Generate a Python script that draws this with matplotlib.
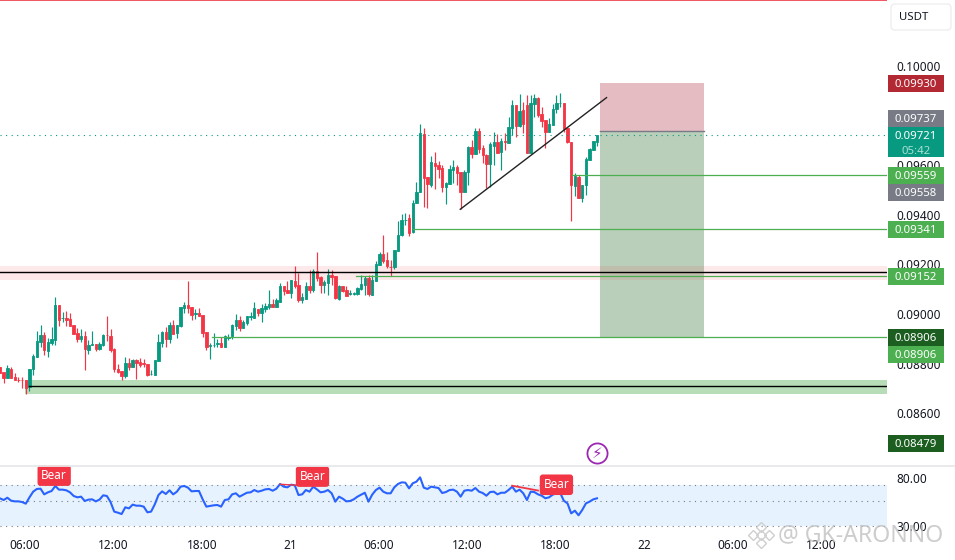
#!/usr/bin/env python3
import numpy as np
import matplotlib
matplotlib.use('Agg')
import matplotlib.pyplot as plt
from matplotlib.lines import Line2D
from matplotlib.patches import Rectangle, FancyBboxPatch
from matplotlib.transforms import IdentityTransform

plt.rcParams['font.family'] = ['Noto Sans', 'DejaVu Sans']

# ============================================================================
# data (15m candles, price in 1e-5 units)
# ============================================================================
opens = [8786,8765,8743,8779,8747,8734,8734,8733,8704,8779,8827,8888,8917,8851,8882,8896,9037,8982,8984,8979,
         8956,8924,8900,8912,8855,8876,8880,8859,8876,8915,8912,8859,8777,8769,8752,8803,8786,8815,8806,8801,
         8798,8758,8756,8811,8885,8928,8900,8956,8923,8952,9025,9037,9027,9001,9004,8996,8928,8869,8876,8880,
         8884,8865,8905,8910,8952,8976,8944,8963,8989,8984,9019,9006,9019,9029,9041,9029,9049,9113,9097,9085,
         9133,9117,9056,9060,9113,9097,9173,9151,9117,9124,9157,9153,9060,9113,9097,9082,9081,9079,9100,9117,
         9144,9077,9133,9198,9242,9218,9190,9188,9254,9318,9377,9386,9332,9446,9493,9724,9552,9520,9607,9601,
         9587,9512,9525,9581,9594,9571,9493,9574,9673,9645,9738,9670,9641,9603,9677,9692,9654,9696,9691,9751,
         9842,9759,9822,9842,9648,9846,9869,9805,9783,9735,9762,9826,9849,9849,9748,9693,9515,9554,9469,9520,
         9621,9661,9692]
highs = [8786,8765,8794,8786,8764,8748,8748,8733,8779,8838,8933,8956,8927,8905,8948,9069,9037,9008,9013,9003,
         8956,8943,8940,8933,8896,8933,8880,8889,8920,8992,8939,8862,8799,8769,8826,8823,8820,8818,8822,8818,
         8798,8773,8815,8920,8933,8949,8966,8976,8956,9030,9049,9133,9027,9022,9025,8996,8928,8882,8924,8898,
         8906,8917,8920,8960,8999,8990,8976,8992,9010,9049,9019,9039,9046,9097,9062,9064,9124,9113,9131,9137,
         9194,9164,9085,9130,9177,9180,9250,9153,9137,9180,9177,9153,9117,9113,9113,9097,9090,9108,9157,9153,
         9157,9157,9215,9251,9318,9250,9218,9258,9375,9403,9408,9403,9458,9531,9764,9748,9552,9638,9652,9617,
         9601,9531,9601,9621,9601,9571,9581,9679,9701,9751,9748,9681,9645,9695,9735,9726,9708,9731,9795,9863,
         9842,9885,9856,9883,9883,9885,9876,9833,9783,9789,9845,9883,9889,9849,9755,9693,9567,9560,9520,9634,
         9668,9697,9722]
lows = [8764,8722,8743,8743,8732,8724,8702,8678,8690,8755,8825,8866,8835,8825,8877,8876,8952,8966,8952,8952,
        8920,8889,8888,8775,8837,8876,8851,8855,8873,8890,8846,8768,8761,8735,8743,8775,8786,8740,8786,8788,
        8752,8753,8756,8811,8866,8865,8885,8920,8904,8948,9006,9003,8976,8979,8990,8909,8855,8819,8866,8865,
        8865,8865,8896,8901,8936,8931,8944,8957,8976,8984,8992,8968,9010,9019,9029,9029,9049,9077,9085,9064,
        9105,9047,9046,9060,9083,9090,9133,9086,9083,9077,9117,9062,9056,9090,9073,9077,9078,9077,9097,9077,
        9073,9077,9133,9198,9207,9184,9153,9181,9254,9316,9359,9314,9328,9446,9493,9433,9429,9513,9504,9547,
        9493,9444,9525,9527,9520,9422,9493,9520,9630,9645,9648,9607,9507,9513,9601,9648,9581,9661,9691,9722,
        9715,9755,9728,9648,9648,9795,9795,9755,9670,9732,9762,9809,9836,9735,9688,9375,9476,9469,9453,9480,
        9621,9660,9679]
closes = [8764,8743,8783,8743,8732,8733,8733,8701,8779,8831,8892,8917,8853,8888,8900,9037,8976,8983,8976,8952,
          8920,8900,8912,8859,8876,8878,8859,8880,8916,8914,8855,8780,8765,8752,8803,8787,8816,8802,8795,8800,
          8755,8760,8815,8888,8928,8900,8956,8920,8956,9030,9037,9025,8996,9003,8992,8924,8866,8876,8877,8882,
          8865,8912,8906,8956,8976,8944,8967,8992,8991,9025,9004,9023,9033,9041,9029,9057,9113,9092,9085,9135,
          9113,9056,9069,9113,9097,9173,9144,9117,9130,9157,9148,9063,9113,9093,9073,9083,9083,9104,9121,9144,
          9079,9137,9202,9242,9214,9194,9189,9258,9318,9379,9379,9328,9446,9493,9728,9550,9524,9611,9597,9585,
          9512,9528,9585,9591,9570,9493,9571,9674,9645,9738,9665,9641,9605,9684,9693,9648,9697,9695,9754,9842,
          9759,9818,9766,9648,9849,9869,9802,9779,9735,9765,9826,9852,9850,9746,9692,9520,9558,9469,9520,9625,
          9665,9697,9722]

rsi = [58.8,57.1,59.5,56.4,55.7,55.7,55.0,53.3,59.9,65.8,68.6,68.9,63.0,65.1,66.5,71.7,67.9,67.9,67.2,65.1,
       61.3,59.9,60.6,56.1,57.5,57.8,55.7,57.5,62.0,61.3,55.0,45.0,43.9,42.5,49.5,48.4,52.3,51.2,51.2,50.2,
       44.3,45.0,52.6,62.3,66.1,63.4,67.2,63.0,65.8,71.0,71.7,70.0,66.1,66.5,66.5,57.8,50.2,50.9,51.6,51.9,
       50.2,57.1,57.8,63.0,64.1,60.6,62.7,64.7,65.1,67.5,65.8,66.8,68.2,68.6,66.8,68.9,73.8,71.0,70.3,73.1,
       72.4,62.3,63.0,67.5,65.8,71.0,68.2,65.1,65.8,67.5,64.1,55.4,60.6,58.5,55.7,56.1,57.8,60.6,62.7,64.7,
       55.4,62.7,67.5,70.0,65.8,64.1,64.1,70.3,73.8,75.5,75.2,69.3,74.5,76.2,80.7,70.0,68.6,71.0,70.3,69.6,
       64.4,65.4,67.5,67.9,65.8,60.6,66.8,67.5,66.8,69.6,65.8,64.4,61.6,65.4,65.8,63.0,64.7,64.7,67.5,71.0,
       65.8,67.9,64.1,57.1,65.8,65.4,63.0,61.6,58.9,59.9,62.7,64.1,64.7,56.4,53.6,43.2,46.0,41.2,46.7,53.6,
       55.4,57.8,58.9]

last_price = 0.09721
stop_price = 0.09930
entry_price = 0.09737
target_price = 0.08906
level_prices = [0.09559, 0.09341, 0.09152, 0.08906]
level_starts = [155.2, 112.0, 96.6, 57.6]
pink_zone = (0.09137, 0.09193)
pink_mid = 0.09168
green_zone = (0.08678, 0.08734)
green_mid = 0.08709
trend_x = [124.9, 164.6]
trend_y = [0.09422, 0.09872]
box_x = (162.8, 191.0)

price_ticks = [0.10000, 0.09600, 0.09400, 0.09200, 0.09000, 0.08800, 0.08600]
time_labels = ['06:00', '12:00', '18:00', '21', '06:00', '12:00', '18:00', '22', '06:00', '12:00']
rsi_levels = [72.7, 56.0, 30.0]

price_tags = [
    ('0.09930', 0.09930, '#b22833', 0),
    ('0.09737', 0.09737, '#787b86', 13),
    ('0.09559', 0.09559, '#4caf50', 0),
    ('0.09558', 0.09558, '#787b86', -17),
    ('0.09341', 0.09341, '#4caf50', 0),
    ('0.09152', 0.09152, '#4caf50', 0),
    ('0.08906', 0.08906, '#1b5e20', 0),
    ('0.08906', 0.08906, '#4caf50', -17),
    ('0.08479', 0.08479, '#1b5e20', 0),
]

UP = '#089981'
DOWN = '#f23645'
W, H = 955, 560

# ============================================================================
# layout
# ============================================================================
fig = plt.figure(figsize=(W / 100, H / 100), dpi=100)
ax = fig.add_axes([0, (H - 466) / H, 887 / W, 466 / H])
ax2 = fig.add_axes([0, (H - 534) / H, 887 / W, (534 - 467) / H])

n = len(opens)
x = np.arange(n)
o = np.array(opens) / 1e5
hi = np.array(highs) / 1e5
lo = np.array(lows) / 1e5
c = np.array(closes) / 1e5
colors = [UP if b >= a else DOWN for a, b in zip(o, c)]

# ============================================================================
# main panel
# ============================================================================
ax.fill_between(box_x, entry_price, stop_price, color='#e5bcc2', lw=0, zorder=1)
ax.fill_between(box_x, target_price, entry_price, color='#b9cfba', lw=0, zorder=1)
ax.axhspan(*pink_zone, color='#f23645', alpha=0.11, lw=0, zorder=1.5)
ax.fill_between([6.8, 240.7], *green_zone, color='#b7ddb8', lw=0, zorder=1.5)

ax.vlines(x, lo, hi, colors=colors, lw=0.85, zorder=2)
ax.bar(x, np.abs(c - o), bottom=np.minimum(o, c), width=0.66, color=colors, edgecolor=colors, lw=0.6, zorder=2.5)

ax.axhline(last_price, color=UP, lw=0.8, ls=(0, (1, 4)), zorder=3)
ax.axhline(pink_mid, color='black', lw=1, zorder=3)
ax.plot([8, 240.7], [green_mid, green_mid], color='black', lw=1, zorder=3)
for price, start in zip(level_prices, level_starts):
    ax.plot([start, 240.7], [price, price], color='#4caf50', lw=0.9, zorder=3)
ax.plot(box_x, [entry_price, entry_price], color='#787b86', lw=1, zorder=3)
ax.plot(trend_x, trend_y, color='#222222', lw=1, zorder=3.5)
ax.axhline(0.10264, color=DOWN, lw=1.2, zorder=3)

ax.plot([162], [0.0844], marker='o', ms=14.5, mfc='white', mec='#9c27b0', mew=1.3, zorder=4)
ax.text(162, 0.0844, '\u26a1', color='#9c27b0', fontsize=11, ha='center', va='center',
        family=['DejaVu Sans'], zorder=5)

ax.set_xlim(0, 887 / 3.685)
ax.set_ylim(0.083874, 0.102654)
ax.set_xticks([])
ax.yaxis.tick_right()
ax.set_yticks(price_ticks)
ax.set_yticklabels([f'{p:.5f}' for p in price_ticks], color='#131722', fontsize=8.5)
ax.tick_params(axis='y', length=0, pad=6.5)
for s in ax.spines.values():
    s.set_visible(False)

# ============================================================================
# RSI panel
# ============================================================================
ax2.axhspan(rsi_levels[2], rsi_levels[0], color='#e6f3fe', lw=0, zorder=1)
for lev in rsi_levels:
    ax2.axhline(lev, color='#787b86', lw=0.8, ls=(0, (1, 4)), zorder=2)
ax2.plot(x, rsi, color='#2962ff', lw=1.5, zorder=3)

# divergence segments and their labels
ax2.plot([76, 83], [73.5, 72.0], color=DOWN, lw=1, zorder=4)
ax2.plot([139, 146], [72.0, 67.0], color=DOWN, lw=1.3, zorder=4)
for xp, yv in [(14.7, 82.5), (84.8, 81.5), (151.0, 73.0)]:
    ax2.text(xp, yv, 'Bear', color='white', fontsize=8.5, ha='center', va='center', zorder=6,
             bbox=dict(boxstyle='round,pad=0.32,rounding_size=0.25', fc=DOWN, ec=DOWN, lw=0))

ax2.set_xlim(0, 887 / 3.685)
ax2.set_ylim(21.7, 91.5)
tick_pos = [6.75 + 24 * k for k in range(len(time_labels))]
ax2.set_xticks(tick_pos)
ax2.set_xticklabels(time_labels, color='#131722', fontsize=8.5)
ax2.yaxis.tick_right()
ax2.set_yticks([80, 30])
ax2.set_yticklabels(['80.00', '30.00'], color='#131722', fontsize=8.5)
ax2.tick_params(axis='both', length=0)
ax2.tick_params(axis='x', pad=3.5)
ax2.tick_params(axis='y', pad=6.5)
for s in ax2.spines.values():
    s.set_visible(False)
for lab in ax2.get_xticklabels():
    if lab.get_text() in ('21', '22'):
        lab.set_fontweight('bold')

fig.add_artist(Line2D([0, 1], [(H - 466) / H] * 2, color='#e8e8ea', lw=1.3))

# ============================================================================
# price tags and axis furniture, in pixels
# ============================================================================
px = IdentityTransform()


def tag(label, price, color, shift):
    y = ax.transData.transform((0, price))[1] + shift
    fig.add_artist(Rectangle((888, y - 8.4), 56, 16.8, transform=px, fc=color, ec='none', zorder=5))
    fig.text(916 / W, (y - 1) / H, label, color='white', fontsize=8.2, ha='center', va='center',
             fontweight='bold', zorder=6)


for label, price, color, shift in price_tags:
    tag(label, price, color, shift)

# current price + countdown tag
y_last = ax.transData.transform((0, last_price))[1]
fig.add_artist(Rectangle((888, y_last - 22), 56, 30.5, transform=px, fc=UP, ec='none', zorder=5))
fig.text(916 / W, (y_last - 1) / H, '0.09721', color='white', fontsize=8.2, fontweight='bold',
         ha='center', va='center', zorder=6)
fig.text(916 / W, (y_last - 16) / H, '05:42', color='#a8e0d4', fontsize=8.2, fontweight='bold',
         ha='center', va='center', zorder=6)

fig.add_artist(FancyBboxPatch((891, H - 30), 60, 26, boxstyle='round,pad=0,rounding_size=4', transform=px,
                              fc='white', ec='#eeeeee', lw=1, zorder=4))
fig.text(914 / W, (H - 18) / H, 'USDT', color='#131722', fontsize=8.2, ha='center', va='center', zorder=6)

# watermark
fig.text(778 / W, (H - 535) / H, '@ GK-ARONNO', color='#bdbdbd', alpha=0.75, fontsize=16.6, ha='left', va='center', zorder=8)
wm = fig.add_axes([0, 0, 1, 1], facecolor='none', zorder=7)
wm.set_xlim(0, W)
wm.set_ylim(H, 0)
wm.axis('off')
wm.plot([761, 753, 769, 761, 761], [527, 535, 535, 543, 535], ls='none', marker='D', ms=5,
        mfc='none', mec='#cfcfcf', mew=1)

plt.savefig('out.png', dpi=100)
